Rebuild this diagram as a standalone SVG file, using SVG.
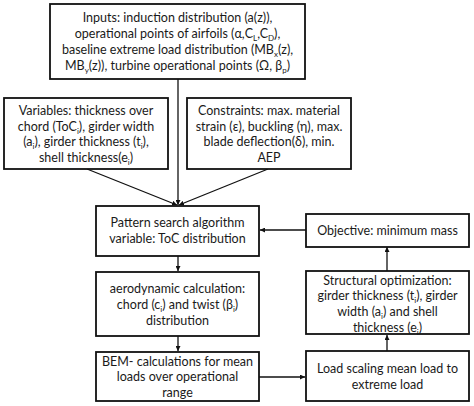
<svg xmlns="http://www.w3.org/2000/svg" width="474" height="406" viewBox="0 0 474 406">
<style>
.box{fill:#fff;stroke:#111;stroke-width:1.8}
text{font-family:Lato,"Liberation Sans",sans-serif;font-size:12.5px;fill:#1a1a1a;text-anchor:middle}
.s{font-size:8px}
.c line{stroke:#111;stroke-width:1.3}
</style>
<defs>
<marker id="ah" viewBox="0 0 10 10" refX="10" refY="5" markerWidth="5" markerHeight="5" orient="auto" markerUnits="userSpaceOnUse">
<path d="M0,0 L10,5 L0,10 z" fill="#111"/>
</marker>
</defs>
<rect width="474" height="406" fill="#fff"/>
<g class="c">
<line x1="178" y1="79" x2="178" y2="205" marker-end="url(#ah)"/>
<line x1="87" y1="169" x2="177" y2="205" marker-end="url(#ah)"/>
<line x1="268" y1="169" x2="179" y2="205" marker-end="url(#ah)"/>
<line x1="306" y1="230" x2="260" y2="230" marker-end="url(#ah)"/>
<line x1="178" y1="256" x2="178" y2="271" marker-end="url(#ah)"/>
<line x1="387" y1="271" x2="387" y2="247" marker-end="url(#ah)"/>
<line x1="178" y1="336" x2="178" y2="351" marker-end="url(#ah)"/>
<line x1="259" y1="377" x2="305" y2="377" marker-end="url(#ah)"/>
<line x1="387" y1="351" x2="387" y2="335" marker-end="url(#ah)"/>
</g>
<g id="inputs">
<rect class="box" x="50" y="4" width="255" height="75"/>
<text x="177.5" y="22">Inputs: induction distribution (a(z)),</text>
<text x="177.5" y="38">operational points of airfoils (α,C<tspan class="s" dy="2.5">L</tspan><tspan dy="-2.5">,C</tspan><tspan class="s" dy="2.5">D</tspan><tspan dy="-2.5">),</tspan></text>
<text x="177.5" y="54">baseline extreme load distribution (MB<tspan class="s" dy="2.5">x</tspan><tspan dy="-2.5">(z),</tspan></text>
<text x="177.5" y="70">MB<tspan class="s" dy="2.5">y</tspan><tspan dy="-2.5">(z)), turbine operational points (Ω, β</tspan><tspan class="s" dy="2.5">p</tspan><tspan dy="-2.5">)</tspan></text>
</g>
<g id="variables">
<rect class="box" x="4" y="98" width="164" height="71"/>
<text x="86" y="115">Variables: thickness over</text>
<text x="86" y="131">chord (ToC<tspan class="s" dy="2.5">i</tspan><tspan dy="-2.5">), girder width</tspan></text>
<text x="86" y="146">(a<tspan class="s" dy="2.5">i</tspan><tspan dy="-2.5">), girder thickness (t</tspan><tspan class="s" dy="2.5">i</tspan><tspan dy="-2.5">),</tspan></text>
<text x="86" y="162">shell thickness(e<tspan class="s" dy="2.5">i</tspan><tspan dy="-2.5">)</tspan></text>
</g>
<g id="constraints">
<rect class="box" x="187" y="98" width="164" height="71"/>
<text x="269" y="115">Constraints: max. material</text>
<text x="269" y="131">strain (ε), buckling (η), max.</text>
<text x="269" y="146">blade deflection(δ), min.</text>
<text x="269" y="162">AEP</text>
</g>
<g id="pattern">
<rect class="box" x="96" y="206" width="163" height="50"/>
<text x="177.5" y="227">Pattern search algorithm</text>
<text x="177.5" y="243">variable: ToC distribution</text>
</g>
<g id="objective">
<rect class="box" x="306" y="214" width="163" height="33"/>
<text x="387.5" y="235">Objective: minimum mass</text>
</g>
<g id="aero">
<rect class="box" x="96" y="272" width="163" height="64"/>
<text x="177.5" y="293">aerodynamic calculation:</text>
<text x="177.5" y="309">chord (c<tspan class="s" dy="2.5">i</tspan><tspan dy="-2.5">) and twist (β</tspan><tspan class="s" dy="2.5">i</tspan><tspan dy="-2.5">)</tspan></text>
<text x="177.5" y="325">distribution</text>
</g>
<g id="structural">
<rect class="box" x="306" y="271" width="163" height="63"/>
<text x="387.5" y="285">Structural optimization:</text>
<text x="387.5" y="300">girder thickness (t<tspan class="s" dy="2.5">i</tspan><tspan dy="-2.5">), girder</tspan></text>
<text x="387.5" y="316">width (a<tspan class="s" dy="2.5">i</tspan><tspan dy="-2.5">) and shell</tspan></text>
<text x="387.5" y="332">thickness (e<tspan class="s" dy="2.5">i</tspan><tspan dy="-2.5">)</tspan></text>
</g>
<g id="bem">
<rect class="box" x="96" y="352" width="163" height="49"/>
<text x="177.5" y="366">BEM- calculations for mean</text>
<text x="177.5" y="381">loads over operational</text>
<text x="177.5" y="397">range</text>
</g>
<g id="loadscaling">
<rect class="box" x="306" y="351" width="163" height="50"/>
<text x="387.5" y="373">Load scaling mean load to</text>
<text x="387.5" y="389">extreme load</text>
</g>
</svg>
